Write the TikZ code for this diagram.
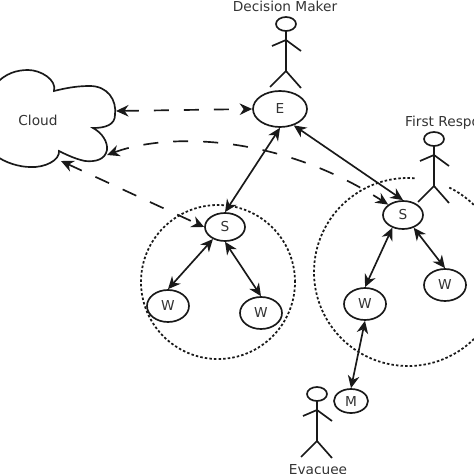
\documentclass[tikz,border=0pt]{standalone}
\usepackage{fontspec}
\setmainfont{DejaVu Sans}
\usetikzlibrary{arrows.meta,positioning,shapes.geometric}

\tikzset{
 stickman/.pic={
  \draw[actor] (0,0) ellipse (2 and 1.4);
  \draw[actor] (0,-1.4)--(0,-9.4);
  \draw[actor] (-2.8,-4.4)--(0,-3.2)--(3,-5.4);
  \draw[actor] (-3.2,-12.6)--(0,-9.4)--(3,-12.8);
 }
}

\begin{document}
\begin{tikzpicture}[
 x=1mm,y=1mm,
 on grid,
 every node/.style={font=\fontsize{7.8}{9}\selectfont,text=black!80},
 actor/.style={line width=.95pt,black!90},
 agent/.style={draw=black!90,ellipse,line width=.95pt,inner sep=0pt,minimum width=8.4mm,minimum height=6.4mm},
 sink/.style={agent,minimum width=8mm,minimum height=5.6mm},
 arr/.style={{Stealth[length=2.5mm,width=2.3mm,inset=.8mm]}-{Stealth[length=2.5mm,width=2.3mm,inset=.8mm]},line width=.95pt,black!90},
 link/.style={arr,dash pattern=on 3mm off 3mm},
 zone/.style={line width=1pt,dash pattern=on .5mm off .42mm,black!90}
]
\useasboundingbox (0,0) rectangle (94.8,-94.8);
\clip (0,0) rectangle (94.8,-94.8);
% cloud
\draw[actor] (-1,-17) .. controls (1,-14.6) and (3.5,-14) .. (5.6,-14)
 .. controls (8.2,-14) and (11.4,-16) .. (10.8,-18.2)
 .. controls (14,-17.4) and (16,-17.2) .. (18,-17.2)
 .. controls (21.5,-17.2) and (23.4,-20) .. (23,-23)
 .. controls (23,-25) and (21,-25.6) .. (18.6,-25.6)
 .. controls (20.5,-26.6) and (21.6,-28.5) .. (21.4,-30)
 .. controls (21,-32) and (19,-32.4) .. (17,-32.2)
 .. controls (15,-31.8) and (13,-30.8) .. (11.8,-30.2)
 .. controls (12,-32) and (9,-33.6) .. (6,-33.4)
 .. controls (4,-33.4) and (1,-32.6) .. (-1,-31);
\node (cloud) at (7.6,-24) {Cloud};
\coordinate (cloudr) at (23.2,-22.2);
\coordinate (cloudb) at (21.4,-31);
\coordinate (cloudc) at (12.2,-32.2);

% agents
\node[agent,minimum width=10.8mm,minimum height=7.2mm] (exec) at (56,-21.8) {E};
\node[sink,below left=23.6mm and 11mm of exec] (supl) {S};
\node[sink,below right=21.2mm and 24.6mm of exec] (supr) {S};
\node[agent,below left=15.8mm and 11.4mm of supl] (workla) {W};
\node[agent,below right=17.2mm and 7.2mm of supl] (worklb) {W};
\node[agent,below left=17.8mm and 7.6mm of supr] (workra) {W};
\node[agent,below right=14mm and 8.4mm of supr] (workrb) {W};
\node[sink,minimum width=6.8mm,minimum height=4.8mm,below left=19.4mm and 2.8mm of workra] (mobile) {M};

% zones
\node[circle,zone,draw,minimum size=30.8mm,inner sep=0pt] (zonel) at (43.6,-56.4) {};
\draw[zone] (81.6,-54.4) ++(86:18.8) arc (86:424:18.8);
\coordinate (zoner) at (81.6,-54.4);

% people
\pic at (57.2,-4.8) {stickman};
\pic at (86.8,-27.8) {stickman};
\pic at (63.4,-78.8) {stickman};
\node (maker) at (57,-1.3) {Decision Maker};
\node[anchor=west] (responder) at (79.8,-24.6) {First Responder};
\node (evacuee) at (63.6,-93.9) {Evacuee};

% links
\draw[link] (cloudr)--(exec.west);
\draw[link] (cloudb) .. controls (34,-26.4) and (56,-27) .. (supr.145);
\draw[link] (cloudc)--(supl.west);
\draw[arr] (exec.south)--(supl.north);
\draw[arr] (exec.-50)--(supr.north);
\draw[arr] (supl.-135)--(workla.north);
\draw[arr] (supl.-90)--(worklb.north);
\draw[arr] (supr.-130)--(workra.north);
\draw[arr] (supr.-50)--(workrb.north);
\draw[arr] (workra.south)--(mobile.north);
\end{tikzpicture}
\end{document}
